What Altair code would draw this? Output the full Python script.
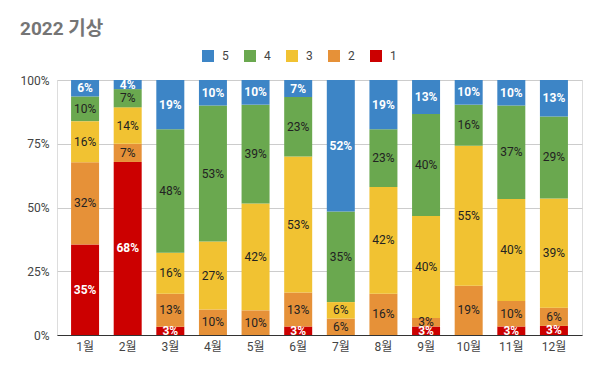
import altair as alt
import pandas as pd

# ---- data (days per weather level, per month) ----
months = ["1월", "2월", "3월", "4월", "5월", "6월", "7월", "8월", "9월", "10월", "11월", "12월"]
days_in_month = [31, 28, 31, 30, 31, 30, 31, 31, 30, 31, 30, 31]
level_1 = [11, 19, 1, 0, 0, 1, 0, 0, 1, 0, 1, 1]
level_2 = [10, 2, 4, 3, 3, 4, 2, 5, 1, 6, 3, 2]
level_3 = [5, 4, 5, 8, 13, 16, 2, 13, 12, 17, 12, 12]
level_4 = [3, 2, 15, 16, 12, 7, 11, 7, 12, 5, 11, 9]
level_5 = [2, 1, 6, 3, 3, 2, 16, 6, 4, 3, 3, 4]

levels = ["5", "4", "3", "2", "1"]
level_colors = ["#3d85c6", "#6aa84f", "#f1c232", "#e69138", "#cc0000"]

series = {"1": level_1, "2": level_2, "3": level_3, "4": level_4, "5": level_5}
rows = []
for lv, vals in series.items():
    for m, d, v in zip(months, days_in_month, vals):
        pct = v / d * 100
        rows.append({"month": m, "level": lv, "order": int(lv), "count": v,
                     "label": f"{pct:.0f}%"})
df = pd.DataFrame(rows)

FONT = "Roboto, Noto Sans CJK KR, sans-serif"

base = alt.Chart(df).transform_stack(
    stack="count", groupby=["month"], as_=["y0", "y1"], offset="normalize",
    sort=[alt.SortField("order", order="ascending")]
).transform_calculate(mid="(datum.y0 + datum.y1) / 2")

x_enc = alt.X("month:N", sort=months,
              scale=alt.Scale(paddingInner=0.343, paddingOuter=0.33),
              axis=alt.Axis(title=None, labelAngle=0, ticks=False, domainColor="#333333",
                            labelPadding=6, labelFontSize=12, labelColor="#444444",
                            labelFont=FONT))
y_scale = alt.Scale(domain=[0, 1], nice=False)

bars = base.mark_bar(size=28).encode(
    x=x_enc,
    y=alt.Y("y0:Q", scale=y_scale,
            axis=alt.Axis(title=None, values=[0, 0.25, 0.5, 0.75, 1], format=".0%",
                          domain=False, ticks=False, labelPadding=8, gridColor="#cccccc",
                          labelFontSize=12, labelColor="#444444", labelFont=FONT)),
    y2="y1:Q",
    color=alt.Color("level:N",
                    scale=alt.Scale(domain=levels, range=level_colors),
                    legend=alt.Legend(title=None, orient="none", direction="horizontal",
                                      legendX=145, legendY=-30, symbolType="square",
                                      symbolSize=144, symbolStrokeWidth=0,
                                      labelFontSize=12, labelColor="#444444", labelFont=FONT,
                                      labelOffset=8, columnPadding=15, padding=0)),
)

txt_dark = base.transform_filter(
    "datum.count > 0 && (datum.level == '2' || datum.level == '3' || datum.level == '4')"
).mark_text(fontSize=12, color="#222222", font=FONT).encode(
    x=alt.X("month:N", sort=months), y=alt.Y("mid:Q", scale=y_scale), text="label:N")

txt_light = base.transform_filter(
    "datum.count > 0 && (datum.level == '1' || datum.level == '5')"
).mark_text(fontSize=12, color="#ffffff", fontWeight="bold", font=FONT).encode(
    x=alt.X("month:N", sort=months), y=alt.Y("mid:Q", scale=y_scale), text="label:N")

chart = alt.layer(bars, txt_dark, txt_light).properties(
    width=525, height=255,
    title=alt.Title("2022 기상", anchor="start", fontSize=19, fontWeight="bold",
                    color="#757575", font=FONT, dx=-37, dy=-7, frame="group"),
    autosize=alt.AutoSizeParams(type="none"),
    padding={"left": 49, "top": 72, "right": 10, "bottom": 28},
).configure_view(stroke=None).configure(font=FONT)

chart.save("out.html", embed_options={"renderer": "svg", "actions": False})
